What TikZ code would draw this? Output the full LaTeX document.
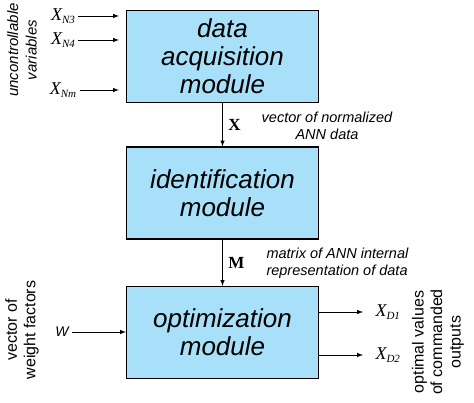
\documentclass[tikz,border=0pt]{standalone}
\usepackage{fontspec}
\setmainfont{Liberation Sans}
\newfontfamily\tnr{Liberation Serif}
\usepackage{tikz}
\usetikzlibrary{arrows, positioning, calc}
\definecolor{boxblue}{RGB}{168,224,250}
\newcommand{\varlab}[2]{{\tnr\itshape #1\raisebox{-0.4ex}{\fontsize{11}{11}\selectfont #2}}}
\tikzset{
  module/.style={draw, line width=1.2pt, fill=boxblue, minimum width=192pt,
    minimum height=92pt, align=center, font=\fontsize{26}{28}\selectfont\itshape},
  note/.style={font=\fontsize{14.5}{17}\selectfont\itshape},
  side/.style={rotate=90, align=center, font=\fontsize{16}{18.5}\selectfont},
  inlab/.style={font=\fontsize{18}{18}\selectfont},
  flow/.style={->, >=latex, line width=1pt},
}

\begin{document}
\begin{tikzpicture}[x=1pt, y=-1pt]
    \useasboundingbox (0,0) rectangle (474,402);

    % the three modules, top to bottom
    \node[module] (acq) at (222.5,56.5) {data\\acquisition\\module};
    \node[module] (ident) at (222.5,193) {identification\\module};
    \node[module] (optim) at (222.5,332.5) {optimization\\module};

    % data passed down between the modules
    \draw[flow] (acq) -- node[right=2pt, font=\fontsize{17}{17}\selectfont\tnr\bfseries] {X} (ident);
    \draw[flow] (ident) -- node[right=2pt, font=\fontsize{17}{17}\selectfont\tnr\bfseries] {M} (optim);
    \node[note, align=center] (xnote) at (327,126) {vector of normalized\\ANN data};
    \node[note, align=left, anchor=west] (mnote) at (263,263) {matrix of ANN internal\\representation of data};

    % uncontrollable inputs
    \node[inlab] (xn3) at (63,16) {\varlab{X}{N3}};
    \node[inlab] (xn4) at (63,40) {\varlab{X}{N4}};
    \node[inlab] (xnm) at (63,90) {\varlab{X}{Nm}};
    \draw[flow, shorten >=7pt] (xn3.east) -- (xn3.east -| acq.west);
    \draw[flow, shorten >=7pt] (xn4.east) -- (xn4.east -| acq.west);
    \draw[flow, shorten >=7pt] (xnm.east) -- (xnm.east -| acq.west);
    \node[side, font=\fontsize{15}{18.5}\selectfont\itshape] (uncv) at (22,50) {uncontrollable\\variables};

    % weight factors
    \node[font=\fontsize{14}{14}\selectfont\itshape] (w) at (62,332) {W};
    \draw[flow] (w.east) -- (w.east -| optim.west);
    \node[side] (wvec) at (22,330) {vector of\\weight factors};

    % commanded outputs
    \node[inlab, anchor=west] (xd1) at (372,312) {\varlab{X}{D1}};
    \node[inlab, anchor=west] (xd2) at (372,355) {\varlab{X}{D2}};
    \draw[flow, shorten >=9pt] (xd1.west -| optim.east) -- (xd1.west);
    \draw[flow, shorten >=9pt] (xd2.west -| optim.east) -- (xd2.west);
    \node[side] (optv) at (438,342) {optimal values\\of commanded\\outputs};
\end{tikzpicture}
\end{document}
